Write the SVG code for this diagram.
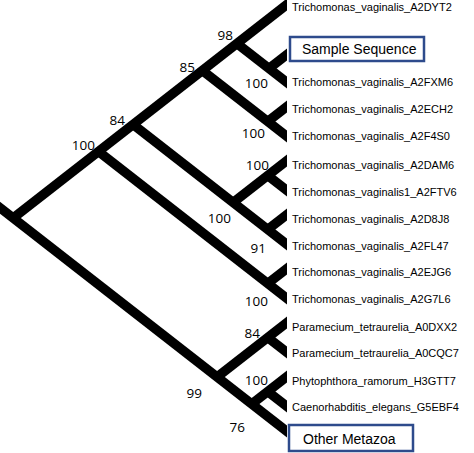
<svg xmlns="http://www.w3.org/2000/svg" width="474" height="453" viewBox="0 0 474 453">
  <style>
    .br { stroke: #000; stroke-width: 9.5; stroke-linecap: butt; fill: none; }
    .leaf { font-family: "Liberation Sans", Arial, sans-serif; font-size: 11px; fill: #000; }
    .sup { font-family: "Open Sans", "Liberation Sans", sans-serif; font-size: 13.5px; fill: #000; text-anchor: end; }
    .box { fill: #fff; stroke: #2E4B8C; stroke-width: 2.5; }
    .boxt { font-family: "Liberation Sans", Arial, sans-serif; font-size: 14px; fill: #000; }
  </style>
  <defs>
    <clipPath id="tipclip"><rect x="-20" y="-20" width="307" height="500"/></clipPath>
  </defs>
  <rect width="474" height="453" fill="#fff"/>
  <g id="connectors" clip-path="url(#tipclip)">
    <line class="br" x1="13.2" y1="218" x2="292" y2="0.5"/>
    <line class="br" x1="-10" y1="199.9" x2="292" y2="435.5"/>
    <line class="br" x1="98.5" y1="151.5" x2="292" y2="302.5"/>
    <line class="br" x1="267.7" y1="283.5" x2="292" y2="264.5"/>
    <line class="br" x1="133.1" y1="124.5" x2="292" y2="248.5"/>
    <line class="br" x1="233.1" y1="202.5" x2="292" y2="156.5"/>
    <line class="br" x1="267.7" y1="175.5" x2="292" y2="194.5"/>
    <line class="br" x1="267.7" y1="229.5" x2="292" y2="210.5"/>
    <line class="br" x1="202.3" y1="70.5" x2="292" y2="140.5"/>
    <line class="br" x1="267.7" y1="121.5" x2="292" y2="102.5"/>
    <line class="br" x1="236.9" y1="43.5" x2="292" y2="86.5"/>
    <line class="br" x1="269" y1="68.5" x2="292" y2="50.5"/>
    <line class="br" x1="217.1" y1="377" x2="292" y2="318.5"/>
    <line class="br" x1="267.7" y1="337.5" x2="292" y2="356.5"/>
    <line class="br" x1="251.7" y1="404" x2="292" y2="372.5"/>
    <line class="br" x1="267.7" y1="391.5" x2="292" y2="410.5"/>
  </g>
  <g id="node-A"><text class="sup" x="95" y="150">100</text></g>
  <g id="node-B"><text class="sup" x="125" y="125">84</text></g>
  <g id="node-C"><text class="sup" x="195" y="72">85</text></g>
  <g id="node-D"><text class="sup" x="233" y="40">98</text></g>
  <g id="node-E"><text class="sup" x="268" y="88">100</text></g>
  <g id="node-F"><text class="sup" x="265" y="138">100</text></g>
  <g id="node-G"><text class="sup" x="231" y="223">100</text></g>
  <g id="node-H"><text class="sup" x="269" y="170">100</text></g>
  <g id="node-I"><text class="sup" x="266" y="253">91</text></g>
  <g id="node-J"><text class="sup" x="268" y="306">100</text></g>
  <g id="node-K"><text class="sup" x="202" y="398">99</text></g>
  <g id="node-M"><text class="sup" x="260" y="338">84</text></g>
  <g id="node-O"><text class="sup" x="268" y="385">100</text></g>
  <g id="node-N"><text class="sup" x="245" y="432">76</text></g>

  <g id="leaf-A2DYT2"><text class="leaf" x="292" y="11">Trichomonas_vaginalis_A2DYT2</text></g>
  <g id="leaf-sample">
    <rect class="box" x="290" y="37" width="134" height="24"/>
    <text class="boxt" x="302" y="54">Sample Sequence</text>
  </g>
  <g id="leaf-A2FXM6"><text class="leaf" x="292" y="86">Trichomonas_vaginalis_A2FXM6</text></g>
  <g id="leaf-A2ECH2"><text class="leaf" x="292" y="113">Trichomonas_vaginalis_A2ECH2</text></g>
  <g id="leaf-A2F4S0"><text class="leaf" x="292" y="140">Trichomonas_vaginalis_A2F4S0</text></g>
  <g id="leaf-A2DAM6"><text class="leaf" x="292" y="169">Trichomonas_vaginalis_A2DAM6</text></g>
  <g id="leaf-A2FTV6"><text class="leaf" x="292" y="196">Trichomonas_vaginalis1_A2FTV6</text></g>
  <g id="leaf-A2D8J8"><text class="leaf" x="292" y="223">Trichomonas_vaginalis_A2D8J8</text></g>
  <g id="leaf-A2FL47"><text class="leaf" x="292" y="250">Trichomonas_vaginalis_A2FL47</text></g>
  <g id="leaf-A2EJG6"><text class="leaf" x="292" y="276">Trichomonas_vaginalis_A2EJG6</text></g>
  <g id="leaf-A2G7L6"><text class="leaf" x="292" y="303">Trichomonas_vaginalis_A2G7L6</text></g>
  <g id="leaf-A0DXX2"><text class="leaf" x="292" y="331">Paramecium_tetraurelia_A0DXX2</text></g>
  <g id="leaf-A0CQC7"><text class="leaf" x="292" y="357">Paramecium_tetraurelia_A0CQC7</text></g>
  <g id="leaf-H3GTT7"><text class="leaf" x="292" y="385">Phytophthora_ramorum_H3GTT7</text></g>
  <g id="leaf-G5EBF4"><text class="leaf" x="292" y="411">Caenorhabditis_elegans_G5EBF4</text></g>
  <g id="leaf-metazoa">
    <rect class="box" x="289" y="425" width="124" height="26"/>
    <text class="boxt" x="303" y="444">Other Metazoa</text>
  </g>
</svg>
